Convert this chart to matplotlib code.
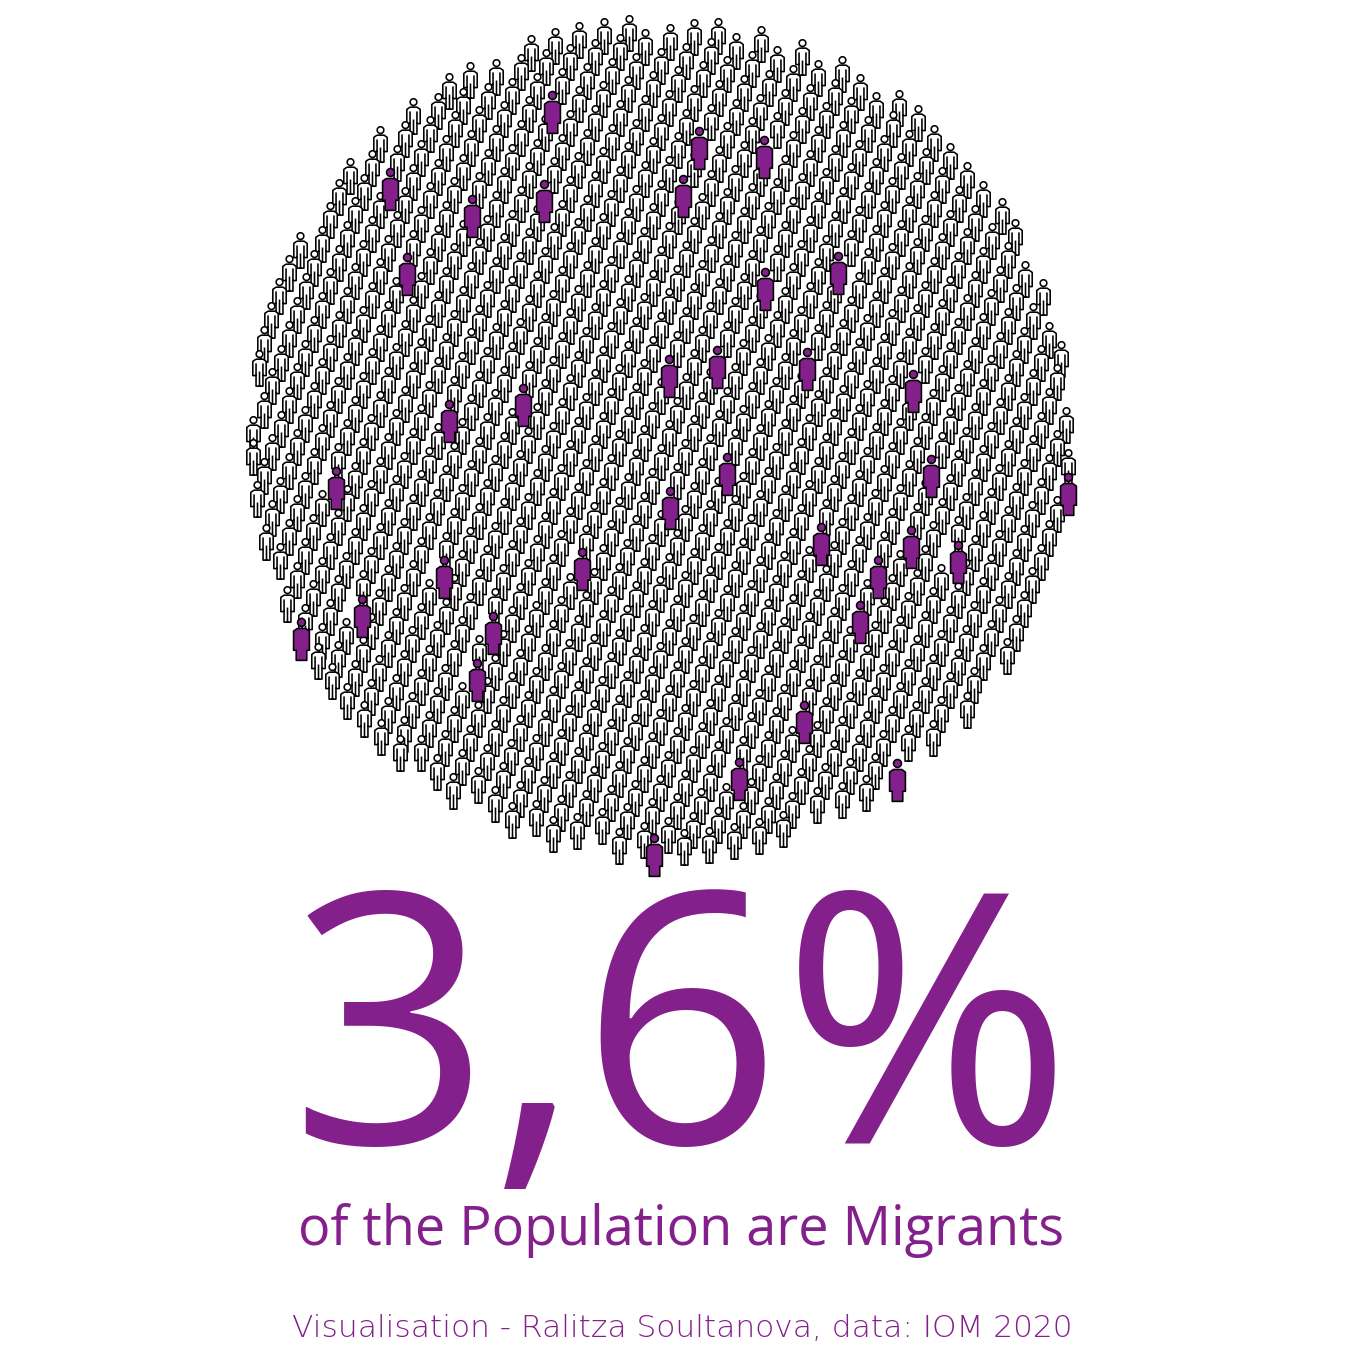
import numpy as np
import matplotlib
matplotlib.use("Agg")
import matplotlib.pyplot as plt
from matplotlib.path import Path

# the 36 migrants out of 1000 (centre of each figure)
migrant_x = [552, 699, 764, 390, 544, 683, 472, 407, 838, 765, 717, 669, 807, 913, 523, 449, 931, 727,
             336, 1068, 670, 821, 911, 958, 878, 444, 582, 362, 860, 493, 301, 477, 804, 739, 897, 654]
migrant_y = [112, 148, 157, 189, 201, 196, 216, 274, 273, 289, 367, 376, 369, 391, 405, 421, 476, 474,
             488, 494, 508, 544, 547, 562, 577, 577, 569, 616, 622, 633, 639, 680, 722, 779, 780, 855]

big_label = "3,6%"
sub_label = "of the Population are Migrants"
credit = "Visualisation - Ralitza Soultanova, data: IOM 2020"

purple = "#84208b"

# crowd layout: slanted lattice inside a disc
cx, cy, radius = 661, 440, 411
ax_a = np.array([8.3, -23.7])
ax_b = np.array([16.5, 18.7])
anchor = np.array([669, 372.3])


def person(leg=3.4, arm_end=-7, slits=True):
    t = np.linspace(0, 2 * np.pi, 25)
    head = np.column_stack([3.3 * np.cos(t), 14.2 + 3.3 * np.sin(t)])
    outline = [(-3.5, 9.2), (3.5, 9.2), (6.6, 7), (6.6, arm_end), (leg, arm_end), (leg, -17.4), (-leg, -17.4),
               (-leg, arm_end), (-6.6, arm_end), (-6.6, 7), (-3.5, 9.2)]
    verts = list(map(tuple, head)) + outline
    codes = [Path.MOVETO] + [Path.LINETO] * 24 + [Path.MOVETO] + [Path.LINETO] * 10
    # slits for the arms and legs
    if slits:
        for seg in [[(leg, arm_end), (leg, 5)], [(-leg, arm_end), (-leg, 5)], [(0, -17.4), (0, -3)]]:
            verts += seg
            codes += [Path.MOVETO, Path.LINETO]
    return Path(verts, codes)


def crowd():
    inner, rim = [], []
    for i in range(-30, 31):
        for j in range(-30, 31):
            p = anchor + i * ax_a + j * ax_b
            d = np.hypot(*(p - [cx, cy]))
            if d <= radius - 6:
                inner.append(p)
            elif d < radius + 14:
                rim.append(np.array([cx, cy]) + (p - [cx, cy]) * (radius - 3) / d)
    pts = list(inner)
    for p in rim:
        if min(np.hypot(*(p - q)) for q in pts) > 19:
            pts.append(p)
    return pts


migrants = np.column_stack([migrant_x, migrant_y]).astype(float)
people = [p for p in crowd() if np.hypot(*(migrants - p).T).min() > 15]
people.sort(key=lambda r: r[1])
print(len(people) + len(migrants))

fig = plt.figure(figsize=(13.58, 13.58), dpi=100)
ax = fig.add_axes([0, 0, 1, 1])
ax.set_xlim(0, 1358)
ax.set_ylim(1358, 0)
ax.axis("off")

ax.scatter([r[0] for r in people], [r[1] for r in people], marker=person(),
           s=(35.5 * 0.72) ** 2, c="white", edgecolors="black", linewidths=1.15)
# migrants stand out on top of the crowd
ax.scatter(migrant_x, migrant_y, marker=person(leg=4.4, arm_end=-9, slits=False),
           s=(42 * 0.72) ** 2, c=purple, edgecolors="black", linewidths=1.15)

ax.text(681, 1144, big_label, color=purple, family="Open Sans", fontsize=253, ha="center", va="baseline")
ax.text(681, 1245, sub_label, color=purple, family="Open Sans", fontsize=38.8, ha="center", va="baseline")
ax.text(682, 1337, credit, color=purple, family="DejaVu Sans", fontweight="light", fontsize=22.5, ha="center",
        va="baseline")

fig.savefig("out.png", dpi=100)
